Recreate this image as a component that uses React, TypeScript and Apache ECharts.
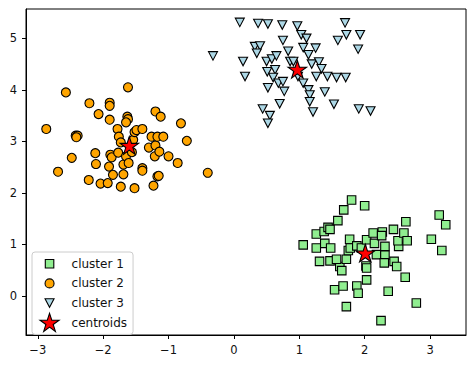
import React, { useEffect, useRef } from "react";
import * as echarts from "echarts";

// ---- data ----
const xTicks = [-3, -2, -1, 0, 1, 2, 3];
const yTicks = [0, 1, 2, 3, 4, 5];
const seriesNames = ["cluster 1", "cluster 2", "cluster 3", "centroids"];

const c1x = [1.06, 1.26, 1.26, 1.31, 1.39, 1.38, 1.44, 1.47, 1.48, 1.47, 1.54, 1.59, 1.62, 1.65, 1.68, 1.67, 1.72, 1.72, 1.57, 1.75, 1.77, 1.80, 1.78, 1.88, 1.88, 1.90, 1.95, 2.00, 2.03, 2.02, 2.03, 2.03, 2.13, 2.15, 2.18, 2.25, 2.27, 2.26, 2.31, 2.31, 2.30, 2.36, 2.44, 2.45, 2.49, 2.52, 2.51, 2.63, 2.60, 2.65, 2.62, 2.79, 3.02, 3.14, 3.24, 3.18];
const c1y = [0.99, 1.20, 0.93, 0.67, 1.02, 1.25, 1.33, 1.29, 0.93, 0.68, 0.12, 1.46, 0.57, 0.49, 1.67, 0.19, -0.21, 0.71, 0.71, 0.88, 1.10, 1.86, 0.93, 0.97, 0.19, 0.05, 0.93, 1.75, 1.09, 0.58, 0.54, 0.31, 1.22, 1.02, 0.80, -0.48, 1.24, 1.17, 0.96, 0.79, 0.64, 0.09, 1.29, 0.67, 0.57, 0.96, 1.07, 1.44, 1.22, 1.07, 0.36, -0.14, 1.10, 1.57, 1.38, 0.88];

const c2x = [-2.87, -2.57, -2.69, -2.48, -2.42, -2.39, -2.41, -2.21, -2.22, -2.12, -2.11, -2.07, -2.04, -1.93, -1.90, -1.90, -1.90, -1.89, -1.91, -1.87, -1.85, -1.78, -1.77, -1.73, -1.76, -1.73, -1.69, -1.69, -1.62, -1.63, -1.62, -1.65, -1.65, -1.61, -1.56, -1.54, -1.52, -1.52, -1.49, -1.40, -1.40, -1.40, -1.30, -1.26, -1.23, -1.20, -1.20, -1.21, -1.17, -1.17, -1.15, -1.12, -1.14, -1.08, -1.00, -0.86, -0.81, -0.72, -0.40];
const c2y = [3.24, 3.95, 2.41, 2.68, 3.11, 3.11, 3.08, 3.74, 2.25, 2.77, 2.56, 3.53, 2.18, 2.19, 3.42, 3.75, 3.69, 2.74, 2.51, 2.69, 2.35, 3.24, 2.78, 2.12, 3.09, 2.98, 2.36, 2.55, 4.05, 3.48, 3.43, 3.37, 2.71, 2.58, 2.79, 3.03, 2.09, 3.18, 3.22, 3.24, 2.48, 2.43, 2.88, 3.09, 2.14, 3.58, 2.92, 2.71, 3.09, 2.32, 2.33, 3.48, 2.80, 3.09, 2.71, 2.58, 3.35, 3.01, 2.39];

const c3x = [0.09, 0.37, 0.52, 0.74, 0.97, 1.03, 1.11, 1.70, 1.72, 1.93, 1.90, 1.59, -0.32, 0.14, 0.17, 0.32, 0.40, 0.35, 0.75, 0.83, 1.06, 1.25, 1.14, 0.50, 0.58, 0.65, 0.51, 0.63, 0.86, 0.91, 1.19, 1.30, 1.34, 1.26, 1.43, 1.57, 1.71, 0.98, 1.06, 0.60, 0.68, 0.75, 0.52, 0.77, 1.14, 1.16, 1.16, 1.39, 0.70, 1.53, 1.21, 1.91, 2.09, 0.44, 0.55, 0.52];
const c3y = [5.31, 5.29, 5.28, 5.26, 5.24, 5.07, 5.00, 5.30, 5.07, 5.07, 4.79, 4.96, 4.66, 4.55, 4.26, 4.84, 4.85, 4.71, 4.96, 4.75, 4.82, 4.81, 4.68, 4.55, 4.60, 4.66, 4.35, 4.39, 4.55, 4.55, 4.50, 4.54, 4.41, 4.26, 4.26, 4.24, 4.24, 4.26, 4.13, 4.24, 4.13, 4.16, 4.04, 3.97, 4.00, 3.90, 3.77, 3.96, 3.73, 3.72, 3.57, 3.63, 3.59, 3.63, 3.50, 3.35];

const centroidX = [2.01, -1.60, 0.97];
const centroidY = [0.83, 2.92, 4.40];

// ---- shapes ----
function starPoints(cx: number, cy: number, R: number, r: number): string {
  const pts: string[] = [];
  for (let i = 0; i < 10; i++) {
    const rad = i % 2 === 0 ? R : r;
    const a = ((-90 + i * 36) * Math.PI) / 180;
    pts.push(`${(cx + rad * Math.cos(a)).toFixed(3)},${(cy + rad * Math.sin(a)).toFixed(3)}`);
  }
  return "M" + pts.join("L") + "Z";
}
const STAR = "path://" + starPoints(10, 10, 10, 3.82);
const TRI_DOWN = "path://M0,0L2,0L1,2Z";

const LW = 31;
const LH = 18.5;
const PAD = `M0,0M${LW},${LH}`;
const legendSquare = `path://${PAD}M9.75,5H18.25V13.5H9.75Z`;
const legendCircle = `path://${PAD}M9.5,9.25A4.5,4.5 0 1 0 18.5,9.25A4.5,4.5 0 1 0 9.5,9.25Z`;
const legendTri = `path://${PAD}M9.5,5L18.5,5L14,13.5Z`;
const legendStar = `path://${PAD}` + starPoints(14, 10, 10, 3.82);

const colors = ["#90EE90", "#FFA500", "#ADD8E6", "#FF0000"];
const FONT = "DejaVu Sans";

const zip = (xs: number[], ys: number[]) => xs.map((x, i) => [x, ys[i]]);
const fmt = (v: number) => (v < 0 ? "\u2212" + Math.abs(v) : String(v));

export default function App() {
  const ref = useRef<HTMLDivElement>(null);
  useEffect(() => {
    if (!ref.current) return;
    const chart = echarts.init(ref.current, null, { renderer: "svg" });
    const edge = { borderColor: "#000", borderWidth: 1.1, opacity: 1 };
    chart.setOption({
      animation: false,
      backgroundColor: "#fff",
      grid: { left: 26, right: 8, top: 9, bottom: 31, show: true, borderColor: "#000", borderWidth: 1, outerBoundsMode: "none" },
      xAxis: {
        type: "value",
        min: -3.18,
        max: 3.55,
        splitLine: { show: false },
        axisLine: { show: true, onZero: false, lineStyle: { color: "#000", width: 1 } },
        axisTick: { show: true, inside: false, length: 4, customValues: xTicks, lineStyle: { color: "#000" } },
        axisLabel: { customValues: xTicks, formatter: fmt, margin: 9, fontSize: 11.5, fontFamily: FONT, color: "#111" },
      },
      yAxis: {
        type: "value",
        min: -0.76,
        max: 5.57,
        splitLine: { show: false },
        axisLine: { show: true, onZero: false, lineStyle: { color: "#000", width: 1 } },
        axisTick: { show: true, inside: false, length: 4, customValues: yTicks, lineStyle: { color: "#000" } },
        axisLabel: { customValues: yTicks, formatter: fmt, margin: 9, fontSize: 11.5, fontFamily: FONT, color: "#111" },
      },
      legend: {
        orient: "vertical",
        left: 32,
        top: 252,
        padding: [2, 6, 2, 3],
        itemGap: 0,
        itemWidth: LW,
        itemHeight: LH,
        selectedMode: false,
        backgroundColor: "rgba(255,255,255,0.8)",
        borderColor: "#cccccc",
        borderWidth: 1,
        borderRadius: 3,
        textStyle: { fontSize: 12, fontFamily: FONT, color: "#111" },
        data: [
          { name: seriesNames[0], icon: legendSquare, itemStyle: { color: colors[0], ...edge } },
          { name: seriesNames[1], icon: legendCircle, itemStyle: { color: colors[1], ...edge } },
          { name: seriesNames[2], icon: legendTri, itemStyle: { color: colors[2], ...edge } },
          { name: seriesNames[3], icon: legendStar, itemStyle: { color: colors[3], ...edge } },
        ],
      },
      series: [
        { type: "scatter", name: seriesNames[0], data: zip(c1x, c1y), symbol: "rect", symbolSize: 8.5, itemStyle: { color: colors[0], ...edge }, silent: true, z: 2 },
        { type: "scatter", name: seriesNames[1], data: zip(c2x, c2y), symbol: "circle", symbolSize: 9, itemStyle: { color: colors[1], ...edge }, silent: true, z: 3 },
        { type: "scatter", name: seriesNames[2], data: zip(c3x, c3y), symbol: TRI_DOWN, symbolSize: [9, 8.5], itemStyle: { color: colors[2], ...edge }, silent: true, z: 4 },
        { type: "scatter", name: seriesNames[3], data: zip(centroidX, centroidY), symbol: STAR, symbolSize: [18.5, 17.6], itemStyle: { color: colors[3], ...edge }, silent: true, z: 5 },
      ],
    });
    return () => chart.dispose();
  }, []);
  return <div ref={ref} style={{ position: "absolute", left: 0, top: 0, width: 474, height: 366 }} />;
}
